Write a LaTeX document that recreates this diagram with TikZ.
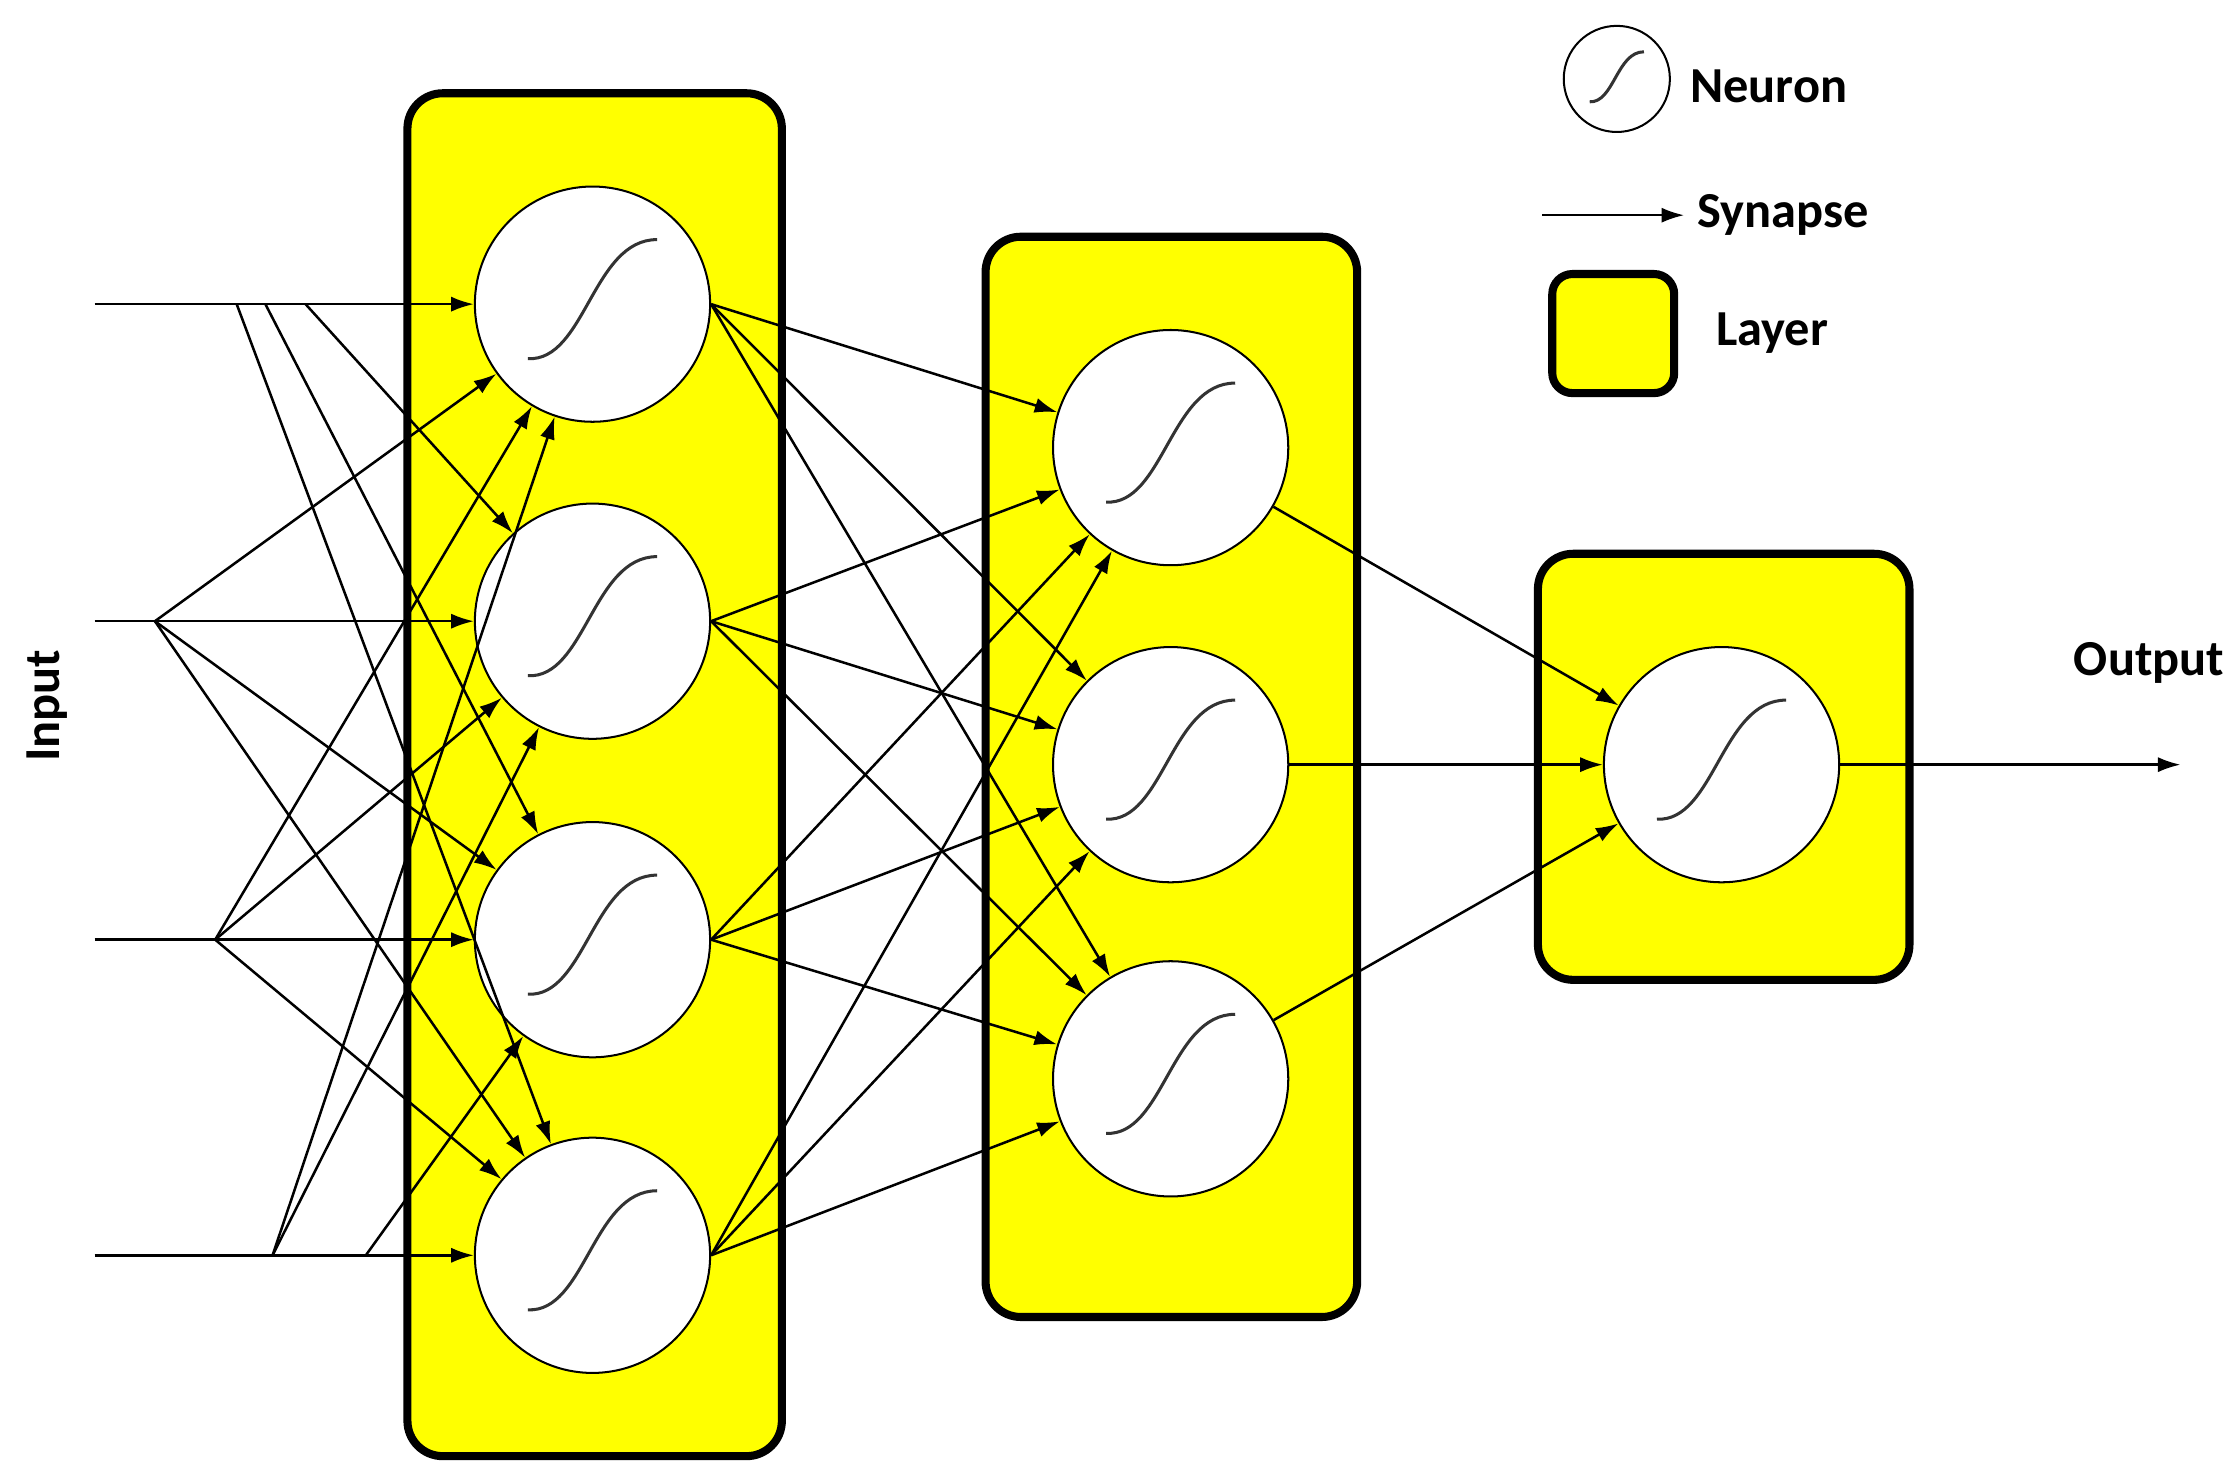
\documentclass[tikz,border=0pt]{standalone}
\usepackage{fontspec}
\setmainfont{Carlito}
\usetikzlibrary{arrows.meta}
\definecolor{layer_yellow}{HTML}{FFFF00}

\tikzset{
  layer/.style = {draw, line width=3.2pt, rounded corners=14pt, fill = layer_yellow},
  neuron/.style = {circle, draw, thick, fill = white, minimum size=3.28cm, inner sep=0pt},
  synapse/.style = {-{Latex[length=9pt,width=6pt]}, line width=1pt},
  wire/.style = {line width=1pt},
  sigmoid/.style = {line width=1.2pt, black!80},
  lbl/.style = {font=\bfseries\fontsize{20}{24}\selectfont}
}
\newcommand{\sig}[2][1]{\draw[sigmoid, shift={(#2)}, scale=#1] (-45,38) .. controls (-5,40) and (0,-45) .. (45,-45);}

\begin{document}
\begin{tikzpicture}[x=0.02cm, y=-0.02cm]
\useasboundingbox (0,0) rectangle (1560,1029);
% layers
\draw[layer] (284,65) rectangle (545,1015);
\draw[layer] (687,165) rectangle (946,918);
\draw[layer] (1072,386) rectangle (1331,683);

% inputs and fan points
\foreach \i/\y in {1/212, 2/433, 3/655, 4/875}
  \coordinate (in\i) at (66,\y);
\coordinate (f1a) at (213,212);
\coordinate (f1b) at (185,212);
\coordinate (f1c) at (165,212);
\coordinate (f2) at (108,433);
\coordinate (f3) at (150,655);
\coordinate (f4a) at (190,875);
\coordinate (f4b) at (255,875);

% neurons
\foreach \i/\y in {1/212, 2/433, 3/655, 4/875}
  \node (h\i) [neuron] at (413,\y) {};
\foreach \i/\y in {1/312, 2/533, 3/752}
  \node (m\i) [neuron] at (816,\y) {};
\node (o) [neuron] at (1200,533) {};
\foreach \n in {h1,h2,h3,h4,m1,m2,m3,o} {\sig{\n}}

% input synapses
\draw[wire] (in1) -- (f1a);
\draw[wire] (in2) -- (f2);
\draw[wire] (in3) -- (f3);
\draw[wire] (in4) -- (f4b);
\draw[synapse] (f1a) -- (h1.west);
\draw[synapse] (f1a) -- (h2);
\draw[synapse] (f1b) -- (h3);
\draw[synapse] (f1c) -- (h4);
\foreach \j in {1,3,4} \draw[synapse] (f2) -- (h\j);
\draw[synapse] (f2) -- (h2.west);
\foreach \j in {1,2,4} \draw[synapse] (f3) -- (h\j);
\draw[synapse] (f3) -- (h3.west);
\draw[synapse] (f4a) -- (h1);
\draw[synapse] (f4a) -- (h2);
\draw[synapse] (f4b) -- (h3);
\draw[synapse] (f4b) -- (h4.west);

% hidden synapses
\foreach \i in {1,2,3,4}
  \foreach \j in {1,2,3}
    \draw[synapse] (h\i.east) -- (m\j);
\foreach \j in {1,2,3}
  \draw[synapse] (m\j) -- (o);

% output
\coordinate (out) at (1520,533);
\draw[synapse] (o.east) -- (out);
\node[lbl] at (1498,462) {Output};
\node[lbl, rotate=90] at (33,492) {Input};

% legend
\node (lgn) [circle, draw, thick, minimum size=1.48cm, inner sep=0pt] at (1127,55) {};
\sig[0.42]{lgn}
\node[lbl, anchor=west] at (1172,60) {Neuron};
\coordinate (ls) at (1075,150);
\coordinate (le) at (1174,150);
\draw[synapse] (ls) -- (le);
\node[lbl, anchor=west] at (1177,150) {Synapse};
\draw[layer, rounded corners=8pt] (1082,191) rectangle (1167,274);
\node[lbl, anchor=west] at (1190,232) {Layer};
\end{tikzpicture}
\end{document}
